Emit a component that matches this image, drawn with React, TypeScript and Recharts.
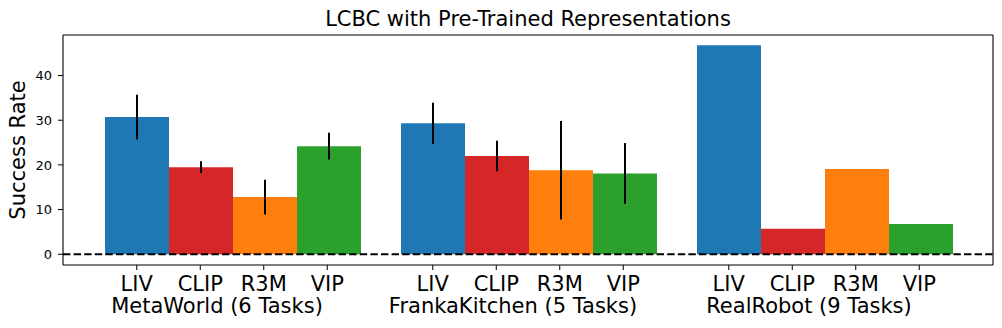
import { BarChart, Bar, XAxis, YAxis, ErrorBar, ReferenceLine } from 'recharts';

const GROUPS = ['MetaWorld (6 Tasks)', 'FrankaKitchen (5 Tasks)', 'RealRobot (9 Tasks)'];
const MODELS = ['LIV', 'CLIP', 'R3M', 'VIP'];

// mean success rate per group, and the std shown as error bar
const LIV = [30.7, 29.3, 46.8];
const LIV_ERR = [5.0, 4.6, 0];
const CLIP = [19.5, 22.0, 5.7];
const CLIP_ERR = [1.3, 3.4, 0];
const R3M = [12.8, 18.8, 19.1];
const R3M_ERR = [3.9, 11.0, 0];
const VIP = [24.2, 18.1, 6.8];
const VIP_ERR = [3.0, 6.8, 0];

const Y_TICKS = [0, 10, 20, 30, 40];

const COLORS: Record<string, string> = {
  LIV: '#1f77b4',
  CLIP: '#d62728',
  R3M: '#ff7f0e',
  VIP: '#2ca02c',
};

const FONT = '"DejaVu Sans", sans-serif';
const BAR_W = 63.5;

const data = GROUPS.map((g, i) => ({
  group: g,
  LIV: LIV[i],
  LIV_err: LIV_ERR[i],
  CLIP: CLIP[i],
  CLIP_err: CLIP_ERR[i],
  R3M: R3M[i],
  R3M_err: R3M_ERR[i],
  VIP: VIP[i],
  VIP_err: VIP_ERR[i],
}));

// one tick per group: the four model names under the bars, then the group name
const GroupTick = (props: any) => {
  const { x, y, payload } = props;
  return (
    <g>
      {MODELS.map((m, i) => {
        const cx = x + (i - 1.5) * BAR_W;
        return (
          <g key={m}>
            <line x1={cx} x2={cx} y1={y} y2={y + 5} stroke="#000" strokeWidth={1} />
            <text x={cx} y={y + 26} textAnchor="middle" fontSize={21} fontFamily={FONT} fill="#000">
              {m}
            </text>
          </g>
        );
      })}
      <text x={x - 15} y={y + 48} textAnchor="middle" fontSize={21} fontFamily={FONT} fill="#000">
        {payload.value}
      </text>
    </g>
  );
};

export default function App() {
  return (
    <div style={{ position: 'absolute', left: 0, top: 0, width: 1002, height: 328, background: '#fff' }}>
      <BarChart
        width={1002}
        height={328}
        data={data}
        margin={{ top: 34, right: 8, bottom: 0, left: 8 }}
        barCategoryGap={21}
        barGap={0}
      >
        <XAxis
          dataKey="group"
          height={63}
          padding={{ left: 21, right: 21 }}
          axisLine={{ stroke: '#000', strokeWidth: 1.1 }}
          tickLine={false}
          tickSize={0}
          tickMargin={0}
          tick={<GroupTick />}
          interval={0}
        />
        <XAxis
          xAxisId="top"
          dataKey="group"
          orientation="top"
          height={1}
          tick={false}
          tickLine={false}
          axisLine={{ stroke: '#000', strokeWidth: 1.1 }}
        />
        <YAxis
          width={55}
          domain={[-2.4, 49.07]}
          allowDataOverflow
          ticks={Y_TICKS}
          interval={0}
          tickSize={5}
          tickMargin={6}
          axisLine={{ stroke: '#000', strokeWidth: 1.1 }}
          tickLine={{ stroke: '#000', strokeWidth: 1 }}
          tick={{ fill: '#000', fontSize: 13, fontFamily: FONT }}
        />
        <YAxis
          yAxisId="right"
          orientation="right"
          width={1}
          domain={[-2.4, 49.07]}
          tick={false}
          tickLine={false}
          axisLine={{ stroke: '#000', strokeWidth: 1.1 }}
        />
        {MODELS.map((m) => (
          <Bar key={m} dataKey={m} fill={COLORS[m]} isAnimationActive={false}>
            <ErrorBar dataKey={`${m}_err`} width={0} strokeWidth={2} stroke="#000" direction="y" />
          </Bar>
        ))}
        <ReferenceLine y={0} stroke="#000" strokeWidth={2} strokeDasharray="7.4 3.2" />
      </BarChart>
      <svg
        width={1002}
        height={328}
        style={{ position: 'absolute', left: 0, top: 0, pointerEvents: 'none' }}
      >
        <text x={528} y={26} textAnchor="middle" fontSize={21} fontFamily={FONT} fill="#000">
          LCBC with Pre-Trained Representations
        </text>
        <text
          transform="rotate(-90)"
          x={-150}
          y={25}
          textAnchor="middle"
          fontSize={21}
          fontFamily={FONT}
          fill="#000"
        >
          Success Rate
        </text>
      </svg>
    </div>
  );
}
